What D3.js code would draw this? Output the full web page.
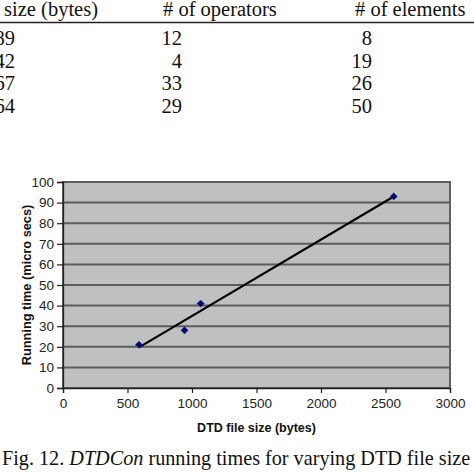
<!DOCTYPE html>
<html>
<head>
<meta charset="utf-8">
<script src="https://cdn.jsdelivr.net/npm/d3@7"></script>
<style>
  html, body { margin: 0; padding: 0; background: #fff; }
  svg { display: block; }
</style>
</head>
<body>
<div id="chart"></div>
<script>
(function(){
"use strict"
//---DTD running times: table + scatter with trendline---

var fileSizes = [589, 942, 1067, 2564],   // bytes
	operators = [12, 4, 33, 29],
	elements  = [8, 19, 26, 50],
	runTimes  = [21, 28, 41, 93],          // micro secs

	tableHeads = ["File size (bytes)", "# of operators", "# of elements"],
	xTicks = [0, 500, 1000, 1500, 2000, 2500, 3000],
	yTicks = [0, 10, 20, 30, 40, 50, 60, 70, 80, 90, 100];

var W = 474, H = 474,
	plot = {left: 63, right: 450, top: 182, bottom: 388};

var svg = d3.select('#chart').append('svg')
	.attr('width', W)
	.attr('height', H)
	.style('background', '#fff');

//---table on top---
var serif = "'Liberation Serif', 'Times New Roman', serif";
var colRight = [15, 182, 372];   // right edges of the number columns
var headAt = [{x: 98, anchor: 'end'}, {x: 163, anchor: 'start'}, {x: 355, anchor: 'start'}];

svg.selectAll('text.head')
	.data(tableHeads)
	.enter().append('text')
		.attr('class', 'head')
		.attr('x', function(d,i){return headAt[i].x;})
		.attr('y', 16)
		.attr('text-anchor', function(d,i){return headAt[i].anchor;})
		.style('font-family', serif)
		.style('font-size', '20.5px')
		.style('fill', '#111')
		.text(function(d){return d;});

svg.append('line')
	.attr('x1', 0).attr('x2', W)
	.attr('y1', 22.5).attr('y2', 22.5)
	.style('stroke', '#222')
	.style('stroke-width', 1.5);

var rows = fileSizes.map(function(d,i){return [d, operators[i], elements[i]];});
var rowY = d3.scaleLinear().domain([0, 1]).range([45, 67.7]);

rows.forEach(function(r, ri){
	svg.selectAll(null)
		.data(r)
		.enter().append('text')
			.attr('x', function(d,i){return colRight[i];})
			.attr('y', rowY(ri))
			.attr('text-anchor', 'end')
			.style('font-family', serif)
			.style('font-size', '20.5px')
			.style('fill', '#111')
			.text(function(d){return d;});
});

//---chart---
var x = d3.scaleLinear().domain([0, 3000]).range([plot.left, plot.right]);
var y = d3.scaleLinear().domain([0, 100]).range([plot.bottom, plot.top]);

svg.append('rect')
	.attr('x', plot.left).attr('y', plot.top)
	.attr('width', plot.right - plot.left)
	.attr('height', plot.bottom - plot.top)
	.style('fill', '#c0c0c0')
	.style('stroke', '#606060')
	.style('stroke-width', 2);

// gridlines
svg.selectAll('line.grid')
	.data(yTicks.slice(1))
	.enter().append('line')
		.attr('class', 'grid')
		.attr('x1', plot.left).attr('x2', plot.right)
		.attr('y1', function(d){return y(d);})
		.attr('y2', function(d){return y(d);})
		.style('stroke', '#5c5c5c')
		.style('stroke-width', 2);

var tickFont = "Arial, 'Liberation Sans', sans-serif";

var yAxis = svg.append('g')
	.attr('transform', 'translate(' + plot.left + ',0)')
	.call(d3.axisLeft(y).tickValues(yTicks).tickSize(6).tickPadding(3));
var xAxis = svg.append('g')
	.attr('transform', 'translate(0,' + plot.bottom + ')')
	.call(d3.axisBottom(x).tickValues(xTicks).tickSize(5).tickPadding(5).tickFormat(d3.format('d')));

[xAxis, yAxis].forEach(function(g){
	g.select('.domain').style('stroke', '#222').style('stroke-width', 1.3);
	g.selectAll('.tick line').style('stroke', '#222').style('stroke-width', 1.2);
	g.selectAll('.tick text')
		.style('font-family', tickFont)
		.style('font-size', '13.5px')
		.style('fill', '#222');
});

// least squares trendline from the data
var mx = d3.mean(fileSizes), my = d3.mean(runTimes);
var sxy = d3.sum(fileSizes, function(d,i){return (d-mx)*(runTimes[i]-my);});
var sxx = d3.sum(fileSizes, function(d){return (d-mx)*(d-mx);});
var slope = sxy/sxx, icpt = my - slope*mx;
var ends = d3.extent(fileSizes);

svg.append('path')
	.datum(ends)
	.attr('d', d3.line()
		.x(function(d){return x(d);})
		.y(function(d){return y(icpt + slope*d);}))
	.style('fill', 'none')
	.style('stroke', '#000')
	.style('stroke-width', 2.2);

svg.selectAll('path.pt')
	.data(fileSizes)
	.enter().append('path')
		.attr('class', 'pt')
		.attr('d', d3.symbol().type(d3.symbolSquare).size(26))
		.attr('transform', function(d,i){return 'translate(' + x(d) + ',' + y(runTimes[i]) + ') rotate(45)';})
		.style('fill', '#00006e')
		.style('stroke', '#3a3aa0')
		.style('stroke-width', 0.6);

// axis titles
svg.append('text')
	.attr('x', (plot.left + plot.right)/2)
	.attr('y', 432)
	.attr('text-anchor', 'middle')
	.style('font-family', tickFont)
	.style('font-weight', 'bold')
	.style('font-size', '12.5px')
	.style('fill', '#111')
	.text('DTD file size (bytes)');

svg.append('text')
	.attr('transform', 'translate(31,' + (plot.top + plot.bottom)/2 + ') rotate(-90)')
	.attr('text-anchor', 'middle')
	.style('font-family', tickFont)
	.style('font-weight', 'bold')
	.style('font-size', '12.8px')
	.style('fill', '#111')
	.text('Running time (micro secs)');

//---caption---
var cap = svg.append('text')
	.attr('x', 2)
	.attr('y', 465)
	.style('font-family', serif)
	.style('font-size', '20.2px')
	.style('fill', '#111');
cap.append('tspan').text('Fig. 12. ');
cap.append('tspan').style('font-style', 'italic').text('DTDCon');
cap.append('tspan').text(' running times for varying DTD file size');

})();
</script>
</body>
</html>
